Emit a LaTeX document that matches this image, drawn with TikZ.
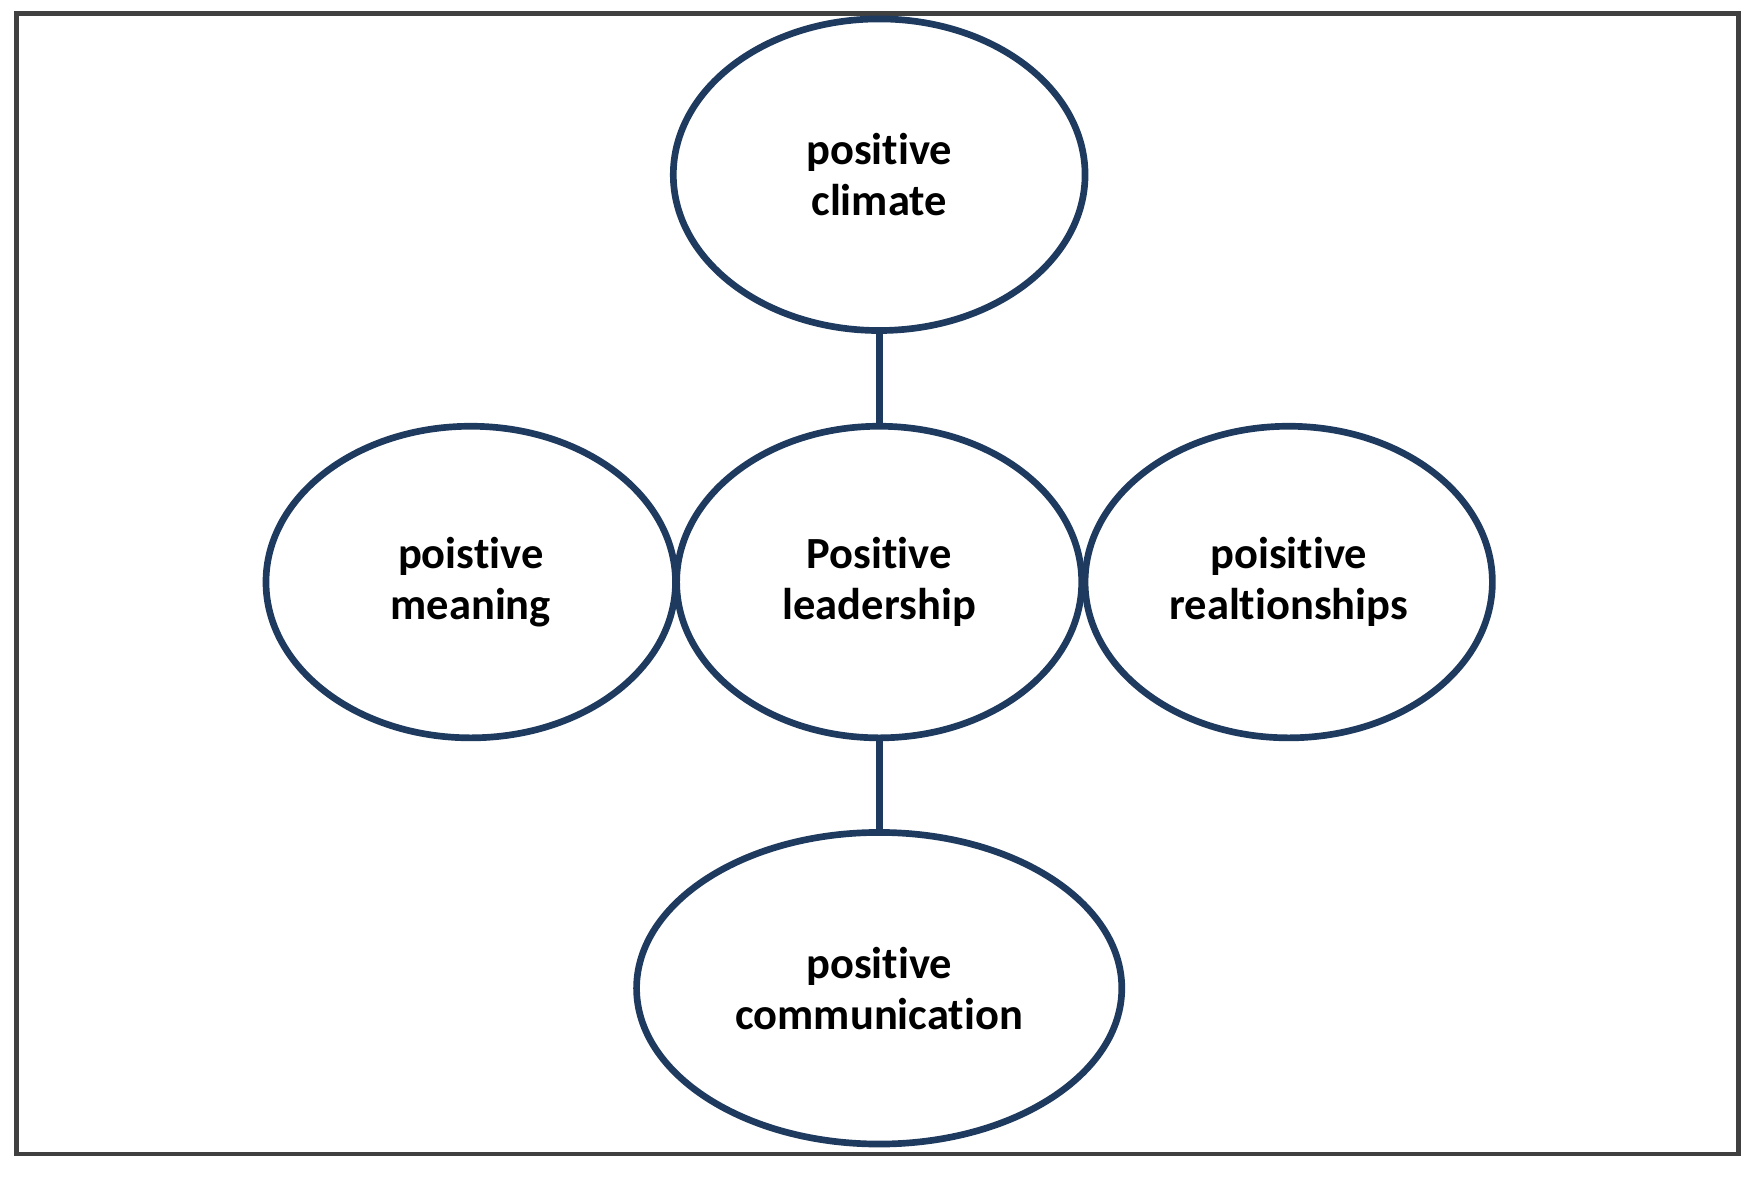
\documentclass[tikz,border=0pt]{standalone}
\usepackage{fontspec}
\setmainfont[Ligatures={NoCommon}]{Carlito}
\usetikzlibrary{shapes.geometric}
\definecolor{navy}{HTML}{1F3A5F}
\definecolor{frame}{HTML}{404040}
\begin{document}
\begin{tikzpicture}[x=1pt,y=-1pt,
  oval/.style={ellipse,draw=navy,line width=6pt,inner sep=0pt,align=center,
    font=\fontsize{40}{46}\selectfont\bfseries,text=black,minimum height=280pt},
  link/.style={draw=navy,line width=6pt}]
\useasboundingbox (0,0) rectangle (1568,1060);
\draw[frame,line width=4pt] (15,12) rectangle (1562,1037);
\node[oval,minimum width=370pt] (top) at (790,157) {positive\\climate};
\node[oval,minimum width=364pt] (c) at (790,523) {Positive\\leadership};
\node[oval,minimum width=368pt] (l) at (423,523) {poistive\\meaning};
\node[oval,minimum width=366pt] (r) at (1158,523) {poisitive\\realtionships};
\node[oval,minimum width=436pt] (b) at (790,888) {positive\\communication};
\draw[link] (top.south) -- (c.north);
\draw[link] (c.south) -- (b.north);
\end{tikzpicture}
\end{document}
